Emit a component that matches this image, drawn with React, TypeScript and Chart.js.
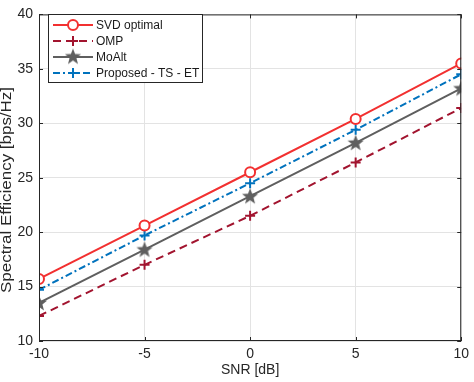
import React, { useEffect, useRef } from "react";
import { Chart, registerables } from "chart.js";
Chart.register(...registerables);

const snr = [-10, -5, 0, 5, 10];
const svdOptimal = [15.7, 20.6, 25.5, 30.4, 35.5];
const omp = [12.3, 17.0, 21.5, 26.4, 31.4];
const moAlt = [13.5, 18.4, 23.3, 28.2, 33.2];
const proposed = [14.7, 19.7, 24.5, 29.4, 34.5];
const labels = ["SVD optimal", "OMP", "MoAlt", "Proposed - TS - ET"];
const xTicks = [-10, -5, 0, 5, 10];
const yTicks = [10, 15, 20, 25, 30, 35, 40];
const xTitle = "SNR [dB]";
const yTitle = "Spectral Efficiency [bps/Hz]";

const FONT = "'Liberation Sans', Arial, Helvetica, sans-serif";

function makeStar(color: string, size: number) {
  const c = document.createElement("canvas");
  c.width = size; c.height = size;
  const ctx = c.getContext("2d")!;
  const cx = size / 2, cy = size / 2 + 0.5;
  const R = size / 2 - 0.5, r = R * 0.42;
  ctx.beginPath();
  for (let i = 0; i < 10; i++) {
    const ang = -Math.PI / 2 + (i * Math.PI) / 5;
    const rr = i % 2 === 0 ? R : r;
    const x = cx + rr * Math.cos(ang), y = cy + rr * Math.sin(ang);
    if (i === 0) ctx.moveTo(x, y); else ctx.lineTo(x, y);
  }
  ctx.closePath();
  ctx.fillStyle = color;
  ctx.fill();
  return c;
}

export default function App() {
  const ref = useRef<HTMLCanvasElement>(null);
  useEffect(() => {
    const star = makeStar("#5f5f5f", 18);
    const styles = [
      { color: "#f23030", dash: [] as number[], point: "circle", radius: 5, width: 2 },
      { color: "#a2142f", dash: [8, 5], point: "cross", radius: 5, width: 2 },
      { color: "#5f5f5f", dash: [] as number[], point: star as any, radius: 9, width: 2 },
      { color: "#0072bd", dash: [7, 3, 2, 3], point: "cross", radius: 5, width: 2 },
    ];
    const series = [svdOptimal, omp, moAlt, proposed];
    const frame = {
      id: "frame",
      afterDatasetsDraw(chart: any) {
        const { ctx, chartArea: a, scales } = chart;
        ctx.save();
        ctx.strokeStyle = "#262626";
        ctx.lineWidth = 1;
        ctx.strokeRect(a.left + 0.5, a.top + 0.5, a.right - a.left - 1, a.bottom - a.top - 1);
        const tl = 4;
        ctx.beginPath();
        xTicks.forEach((v) => {
          const x = Math.round(scales.x.getPixelForValue(v)) + 0.5;
          ctx.moveTo(x, a.bottom); ctx.lineTo(x, a.bottom - tl);
          ctx.moveTo(x, a.top); ctx.lineTo(x, a.top + tl);
        });
        yTicks.forEach((v) => {
          const y = Math.round(scales.y.getPixelForValue(v)) + 0.5;
          ctx.moveTo(a.left, y); ctx.lineTo(a.left + tl, y);
          ctx.moveTo(a.right, y); ctx.lineTo(a.right - tl, y);
        });
        ctx.stroke();
        // legend
        const bx = 48, by = 14, bw = 154, bh = 68;
        ctx.fillStyle = "#ffffff";
        ctx.fillRect(bx, by, bw, bh);
        ctx.strokeStyle = "#262626";
        ctx.strokeRect(bx + 0.5, by + 0.5, bw, bh);
        ctx.font = `12px ${FONT}`;
        ctx.textBaseline = "middle";
        ctx.textAlign = "left";
        styles.forEach((s, i) => {
          const y = by + 11 + i * 16;
          ctx.strokeStyle = s.color;
          ctx.lineWidth = s.width;
          ctx.setLineDash(s.dash);
          ctx.beginPath();
          ctx.moveTo(bx + 5, y); ctx.lineTo(bx + 45, y);
          ctx.stroke();
          ctx.setLineDash([]);
          const mx = bx + 25;
          if (s.point === "circle") {
            ctx.fillStyle = "#fff";
            ctx.beginPath(); ctx.arc(mx, y, 5, 0, Math.PI * 2); ctx.fill(); ctx.stroke();
          } else if (s.point === "cross") {
            ctx.beginPath();
            ctx.moveTo(mx - 5, y); ctx.lineTo(mx + 5, y);
            ctx.moveTo(mx, y - 5); ctx.lineTo(mx, y + 5);
            ctx.stroke();
          } else {
            ctx.drawImage(star, mx - 9, y - 9.5);
          }
          ctx.fillStyle = "#1a1a1a";
          ctx.fillText(labels[i], bx + 48, y + 1);
        });
        // y title (stretched along its length like the reference)
        ctx.font = `14px ${FONT}`;
        ctx.fillStyle = "#262626";
        ctx.textAlign = "center";
        ctx.textBaseline = "middle";
        const w = ctx.measureText(yTitle).width;
        ctx.translate(7.5, 190);
        ctx.rotate(-Math.PI / 2);
        ctx.scale(206 / w, 1);
        ctx.fillText(yTitle, 0, 0);
        ctx.restore();
      },
    };
    const chart = new Chart(ref.current!, {
      type: "line",
      data: {
        datasets: series.map((d, i) => ({
          label: labels[i],
          data: d.map((v, j) => ({ x: snr[j], y: v })),
          borderColor: styles[i].color,
          backgroundColor: styles[i].point === "circle" ? "#ffffff" : styles[i].color,
          borderWidth: styles[i].width,
          borderDash: styles[i].dash,
          pointStyle: styles[i].point,
          pointRadius: styles[i].radius,
          pointBorderWidth: 2,
          pointBorderColor: styles[i].color,
          fill: false,
          tension: 0,
        })),
      },
      plugins: [frame],
      options: {
        animation: false,
        responsive: false,
        layout: { padding: { top: 5, right: 8, left: 0, bottom: 0 } },
        plugins: { legend: { display: false }, tooltip: { enabled: false } },
        scales: {
          x: {
            type: "linear",
            min: -10, max: 10,
            afterBuildTicks: (s: any) => { s.ticks = xTicks.map((v) => ({ value: v })); },
            afterFit: (s: any) => { s.height = 41; },
            grid: { color: "#e3e3e3", drawTicks: false },
            border: { display: false },
            ticks: { color: "#262626", padding: 5, font: { family: FONT, size: 14 }, maxRotation: 0 },
            title: { display: true, text: xTitle, color: "#262626", padding: { top: 0, bottom: 3 }, font: { family: FONT, size: 14 } },
          },
          y: {
            type: "linear",
            min: 10, max: 40,
            afterBuildTicks: (s: any) => { s.ticks = yTicks.map((v) => ({ value: v })); },
            afterFit: (s: any) => { s.width = 39; },
            grid: { color: "#e3e3e3", drawTicks: false },
            border: { display: false },
            ticks: { color: "#262626", padding: 6, font: { family: FONT, size: 14 } },
            title: { display: false },
          },
        },
      },
    } as any);
    return () => chart.destroy();
  }, []);
  return (
    <div style={{ position: "fixed", left: 0, top: 0, width: 474, height: 382, background: "#fff" }}>
      <canvas ref={ref} width={474} height={382} style={{ width: 474, height: 382 }} />
    </div>
  );
}
